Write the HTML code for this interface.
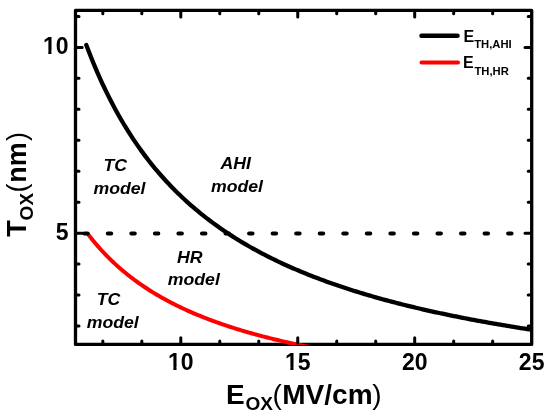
<!DOCTYPE html>
<html><head><meta charset="utf-8"><style>
html,body{margin:0;padding:0;background:#fff;width:550px;height:419px;overflow:hidden}
svg{display:block}
</style></head><body>
<svg width="550" height="419" viewBox="0 0 550 419">
<rect width="550" height="419" fill="#fff"/>
<defs><clipPath id="c"><rect x="75.5" y="8.3" width="456.2" height="336.7"/></clipPath><clipPath id="c2"><rect x="70" y="0" width="463.1" height="419"/></clipPath></defs>
<rect x="75.5" y="10.3" width="456.2" height="334.1" fill="none" stroke="#000" stroke-width="3.3" stroke-linejoin="round"/>
<path d="M87.24 233.15 L88.39 234.65 L89.53 236.14 L90.68 237.59 L91.82 239.03 L92.97 240.44 L94.12 241.83 L95.26 243.19 L96.41 244.54 L97.55 245.87 L98.7 247.17 L99.85 248.46 L100.99 249.73 L102.14 250.98 L103.29 252.21 L104.43 253.42 L105.58 254.62 L106.72 255.79 L107.87 256.96 L109.02 258.1 L110.16 259.23 L111.31 260.34 L112.45 261.44 L113.6 262.52 L114.75 263.59 L115.89 264.64 L117.04 265.68 L118.18 266.71 L119.33 267.72 L120.48 268.72 L121.62 269.7 L122.77 270.68 L123.92 271.64 L125.06 272.58 L126.21 273.52 L127.35 274.44 L128.5 275.35 L129.65 276.25 L130.79 277.14 L131.94 278.02 L133.08 278.89 L134.23 279.74 L135.38 280.59 L136.52 281.43 L137.67 282.25 L138.81 283.07 L139.96 283.87 L141.11 284.67 L142.25 285.46 L143.4 286.24 L144.55 287.01 L145.69 287.77 L146.84 288.52 L147.98 289.26 L149.13 290 L150.28 290.72 L151.42 291.44 L152.57 292.15 L153.71 292.85 L154.86 293.55 L156.01 294.24 L157.15 294.92 L158.3 295.59 L159.44 296.25 L160.59 296.91 L161.74 297.56 L162.88 298.2 L164.03 298.84 L165.18 299.47 L166.32 300.1 L167.47 300.71 L168.61 301.32 L169.76 301.93 L170.91 302.53 L172.05 303.12 L173.2 303.71 L174.34 304.29 L175.49 304.86 L176.64 305.43 L177.78 305.99 L178.93 306.55 L180.07 307.1 L181.22 307.65 L182.37 308.19 L183.51 308.73 L184.66 309.26 L185.81 309.79 L186.95 310.31 L188.1 310.82 L189.24 311.33 L190.39 311.84 L191.54 312.34 L192.68 312.84 L193.83 313.33 L194.97 313.82 L196.12 314.3 L197.27 314.78 L198.41 315.25 L199.56 315.72 L200.7 316.19 L201.85 316.65 L203 317.11 L204.14 317.56 L205.29 318.01 L206.44 318.46 L207.58 318.9 L208.73 319.34 L209.87 319.77 L211.02 320.2 L212.17 320.63 L213.31 321.05 L214.46 321.47 L215.6 321.89 L216.75 322.3 L217.9 322.71 L219.04 323.11 L220.19 323.51 L221.33 323.91 L222.48 324.31 L223.63 324.7 L224.77 325.09 L225.92 325.47 L227.07 325.85 L228.21 326.23 L229.36 326.61 L230.5 326.98 L231.65 327.35 L232.8 327.72 L233.94 328.08 L235.09 328.44 L236.23 328.8 L237.38 329.16 L238.53 329.51 L239.67 329.86 L240.82 330.21 L241.96 330.55 L243.11 330.89 L244.26 331.23 L245.4 331.57 L246.55 331.9 L247.7 332.24 L248.84 332.56 L249.99 332.89 L251.13 333.22 L252.28 333.54 L253.43 333.86 L254.57 334.17 L255.72 334.49 L256.86 334.8 L258.01 335.11 L259.16 335.42 L260.3 335.72 L261.45 336.03 L262.59 336.33 L263.74 336.62 L264.89 336.92 L266.03 337.22 L267.18 337.51 L268.33 337.8 L269.47 338.09 L270.62 338.37 L271.76 338.66 L272.91 338.94 L274.06 339.22 L275.2 339.5 L276.35 339.77 L277.49 340.05 L278.64 340.32 L279.79 340.59 L280.93 340.86 L282.08 341.13 L283.22 341.39 L284.37 341.65 L285.52 341.92 L286.66 342.18 L287.81 342.43 L288.96 342.69 L290.1 342.94 L291.25 343.2 L292.39 343.45 L293.54 343.7 L294.69 343.95 L295.83 344.19 L296.98 344.44 L298.12 344.68 L299.27 344.92 L300.42 345.16 L301.56 345.4 L302.71 345.64 L303.85 345.87 L305 346.1 L306.15 346.34 L307.29 346.57 L308.44 346.8 L309.59 347.02 L310.73 347.25 L311.88 347.48 L313.02 347.7 L314.17 347.92 L315.32 348.14 L316.46 348.36" fill="none" stroke="#ff0000" stroke-width="4" stroke-linecap="butt" stroke-linejoin="round" clip-path="url(#c)"/>
<path d="M180.8 342.9 v-5.2 M180.8 11.8 v5.2 M297.75 342.9 v-5.2 M297.75 11.8 v5.2 M414.7 342.9 v-5.2 M414.7 11.8 v5.2 M102.83 342.9 v-2 M102.83 11.8 v2 M141.82 342.9 v-2 M141.82 11.8 v2 M219.78 342.9 v-2 M219.78 11.8 v2 M258.77 342.9 v-2 M258.77 11.8 v2 M336.73 342.9 v-2 M336.73 11.8 v2 M375.72 342.9 v-2 M375.72 11.8 v2 M453.68 342.9 v-2 M453.68 11.8 v2 M492.67 342.9 v-2 M492.67 11.8 v2 M77 47.4 h5.2 M530.2 47.4 h-5.2 M77 233.15 h5.2 M530.2 233.15 h-5.2 M77 326.02 h2 M530.2 326.02 h-2 M77 295.07 h2 M530.2 295.07 h-2 M77 264.11 h2 M530.2 264.11 h-2 M77 202.19 h2 M530.2 202.19 h-2 M77 171.23 h2 M530.2 171.23 h-2 M77 140.28 h2 M530.2 140.28 h-2 M77 109.32 h2 M530.2 109.32 h-2 M77 78.36 h2 M530.2 78.36 h-2 M77 16.44 h2 M530.2 16.44 h-2" stroke="#000" stroke-width="3" stroke-linecap="round"/>
<path d="M84.2 233.4 h3.5 M107.75 233.4 h3.5 M131.3 233.4 h3.5 M154.85 233.4 h3.5 M178.4 233.4 h3.5 M201.95 233.4 h3.5 M225.5 233.4 h3.5 M249.05 233.4 h3.5 M272.6 233.4 h3.5 M296.15 233.4 h3.5 M319.7 233.4 h3.5 M343.25 233.4 h3.5 M366.8 233.4 h3.5 M390.35 233.4 h3.5 M413.9 233.4 h3.5 M437.45 233.4 h3.5 M461 233.4 h3.5 M484.55 233.4 h3.5 M508.1 233.4 h3.5" stroke="#000" stroke-width="4" stroke-linecap="round"/>
<path d="M86.3 44.91 L88.53 50.79 L90.76 56.48 L92.98 62.01 L95.21 67.37 L97.44 72.57 L99.66 77.62 L101.89 82.52 L104.12 87.28 L106.34 91.91 L108.57 96.42 L110.8 100.8 L113.03 105.06 L115.25 109.21 L117.48 113.26 L119.71 117.19 L121.93 121.03 L124.16 124.77 L126.39 128.42 L128.61 131.98 L130.84 135.46 L133.07 138.85 L135.29 142.16 L137.52 145.39 L139.75 148.55 L141.97 151.63 L144.2 154.65 L146.43 157.6 L148.65 160.48 L150.88 163.3 L153.11 166.06 L155.33 168.77 L157.56 171.41 L159.79 174 L162.01 176.53 L164.24 179.02 L166.47 181.45 L168.69 183.83 L170.92 186.17 L173.15 188.46 L175.37 190.71 L177.6 192.91 L179.83 195.07 L182.05 197.19 L184.28 199.27 L186.51 201.31 L188.73 203.31 L190.96 205.28 L193.19 207.21 L195.41 209.11 L197.64 210.97 L199.87 212.8 L202.09 214.6 L204.32 216.37 L206.55 218.1 L208.77 219.81 L211 221.49 L213.23 223.14 L215.45 224.76 L217.68 226.36 L219.91 227.93 L222.13 229.48 L224.36 231 L226.59 232.49 L228.81 233.96 L231.04 235.41 L233.27 236.84 L235.5 238.24 L237.72 239.63 L239.95 240.99 L242.18 242.33 L244.4 243.65 L246.63 244.96 L248.86 246.24 L251.08 247.5 L253.31 248.75 L255.54 249.97 L257.76 251.18 L259.99 252.38 L262.22 253.55 L264.44 254.71 L266.67 255.86 L268.9 256.98 L271.12 258.1 L273.35 259.19 L275.58 260.27 L277.8 261.34 L280.03 262.4 L282.26 263.43 L284.48 264.46 L286.71 265.47 L288.94 266.47 L291.16 267.46 L293.39 268.43 L295.62 269.39 L297.84 270.34 L300.07 271.28 L302.3 272.2 L304.52 273.11 L306.75 274.02 L308.98 274.91 L311.2 275.79 L313.43 276.66 L315.66 277.52 L317.88 278.36 L320.11 279.2 L322.34 280.03 L324.56 280.85 L326.79 281.66 L329.02 282.46 L331.24 283.25 L333.47 284.03 L335.7 284.8 L337.92 285.57 L340.15 286.32 L342.38 287.07 L344.6 287.81 L346.83 288.54 L349.06 289.26 L351.29 289.97 L353.51 290.68 L355.74 291.38 L357.97 292.07 L360.19 292.75 L362.42 293.43 L364.65 294.1 L366.87 294.76 L369.1 295.41 L371.33 296.06 L373.55 296.7 L375.78 297.34 L378.01 297.96 L380.23 298.59 L382.46 299.2 L384.69 299.81 L386.91 300.41 L389.14 301.01 L391.37 301.6 L393.59 302.18 L395.82 302.76 L398.05 303.34 L400.27 303.9 L402.5 304.47 L404.73 305.02 L406.95 305.57 L409.18 306.12 L411.41 306.66 L413.63 307.2 L415.86 307.73 L418.09 308.25 L420.31 308.77 L422.54 309.29 L424.77 309.8 L426.99 310.3 L429.22 310.81 L431.45 311.3 L433.67 311.79 L435.9 312.28 L438.13 312.77 L440.35 313.24 L442.58 313.72 L444.81 314.19 L447.03 314.66 L449.26 315.12 L451.49 315.58 L453.71 316.03 L455.94 316.48 L458.17 316.93 L460.39 317.37 L462.62 317.81 L464.85 318.24 L467.07 318.67 L469.3 319.1 L471.53 319.52 L473.76 319.94 L475.98 320.36 L478.21 320.77 L480.44 321.18 L482.66 321.59 L484.89 321.99 L487.12 322.39 L489.34 322.79 L491.57 323.18 L493.8 323.57 L496.02 323.96 L498.25 324.34 L500.48 324.72 L502.7 325.1 L504.93 325.47 L507.16 325.84 L509.38 326.21 L511.61 326.58 L513.84 326.94 L516.06 327.3 L518.29 327.66 L520.52 328.01 L522.74 328.36 L524.97 328.71 L527.2 329.06 L529.42 329.4 L531.65 329.74" fill="none" stroke="#000" stroke-width="4.3" stroke-linecap="round" stroke-linejoin="round" clip-path="url(#c2)"/>
<path d="M421.5 35.7 H457.5" stroke="#000" stroke-width="4.5" stroke-linecap="round"/>
<path d="M421.5 62.4 H458" stroke="#ff0000" stroke-width="4" stroke-linecap="round"/>
<text font-family="Liberation Sans, Arial, sans-serif" font-weight="bold" font-size="16" x="463.5" y="41.6">E</text>
<text font-family="Liberation Sans, Arial, sans-serif" font-weight="bold" font-size="11.25" x="474.2" y="47.9">TH,AHI</text>
<text font-family="Liberation Sans, Arial, sans-serif" font-weight="bold" font-size="16" x="463.1" y="68.4">E</text>
<text font-family="Liberation Sans, Arial, sans-serif" font-weight="bold" font-size="11.25" x="474.5" y="74.7">TH,HR</text>
<text font-family="Liberation Sans, Arial, sans-serif" font-weight="bold" font-size="23" text-anchor="end" x="68.5" y="53.8">10</text>
<text font-family="Liberation Sans, Arial, sans-serif" font-weight="bold" font-size="23" text-anchor="end" x="68.5" y="239.7">5</text>
<text font-family="Liberation Sans, Arial, sans-serif" font-weight="bold" font-size="23" text-anchor="middle" x="180.8" y="370">10</text>
<text font-family="Liberation Sans, Arial, sans-serif" font-weight="bold" font-size="23" text-anchor="middle" x="297.75" y="370">15</text>
<text font-family="Liberation Sans, Arial, sans-serif" font-weight="bold" font-size="23" text-anchor="middle" x="414.7" y="370">20</text>
<text font-family="Liberation Sans, Arial, sans-serif" font-weight="bold" font-size="23" text-anchor="middle" x="531.65" y="370">25</text>
<path d="M43.77 50.75H48.29V54.4H43.77Z M51.44 50.75H55.97V54.4H51.44Z" fill="#fff"/>
<path d="M168.86 366.95H173.38V370.6H168.86Z M176.53 366.95H181.06V370.6H176.53Z" fill="#fff"/>
<path d="M285.81 366.95H290.33V370.6H285.81Z M293.48 366.95H298.01V370.6H293.48Z" fill="#fff"/>
<text font-family="Liberation Sans, Arial, sans-serif" font-size="28" font-weight="bold" y="403.6"><tspan x="226.1">E</tspan><tspan x="245.4" y="409.9" font-size="19">OX</tspan><tspan x="272.6" y="403.6" font-weight="normal">(</tspan><tspan x="282.3">MV/cm</tspan><tspan x="372.3" font-weight="normal">)</tspan></text>
<text font-family="Liberation Sans, Arial, sans-serif" font-size="27" font-weight="bold" transform="rotate(-90)" y="26.2"><tspan x="-236.8">T</tspan><tspan x="-220.4" y="32.7" font-size="19">OX</tspan><tspan x="-192.5" y="26.2" font-weight="normal">(</tspan><tspan x="-182.7">nm</tspan><tspan x="-140.9" font-weight="normal">)</tspan></text>
<text font-family="Liberation Sans, Arial, sans-serif" font-weight="bold" font-style="italic" font-size="17" transform="translate(103.49 171.1) scale(1.04 1)">TC</text>
<text font-family="Liberation Sans, Arial, sans-serif" font-weight="bold" font-style="italic" font-size="17" transform="translate(93.47 193.6) scale(1.04 1)">model</text>
<text font-family="Liberation Sans, Arial, sans-serif" font-weight="bold" font-style="italic" font-size="17" transform="translate(220.41 169) scale(1.04 1)">AHI</text>
<text font-family="Liberation Sans, Arial, sans-serif" font-weight="bold" font-style="italic" font-size="17" transform="translate(210.92 191.5) scale(1.04 1)">model</text>
<text font-family="Liberation Sans, Arial, sans-serif" font-weight="bold" font-style="italic" font-size="17" transform="translate(177.04 262.6) scale(1.04 1)">HR</text>
<text font-family="Liberation Sans, Arial, sans-serif" font-weight="bold" font-style="italic" font-size="17" transform="translate(167.82 284.5) scale(1.04 1)">model</text>
<text font-family="Liberation Sans, Arial, sans-serif" font-weight="bold" font-style="italic" font-size="17" transform="translate(96.79 305) scale(1.04 1)">TC</text>
<text font-family="Liberation Sans, Arial, sans-serif" font-weight="bold" font-style="italic" font-size="17" transform="translate(86.72 327.7) scale(1.04 1)">model</text>
</svg>
</body></html>
